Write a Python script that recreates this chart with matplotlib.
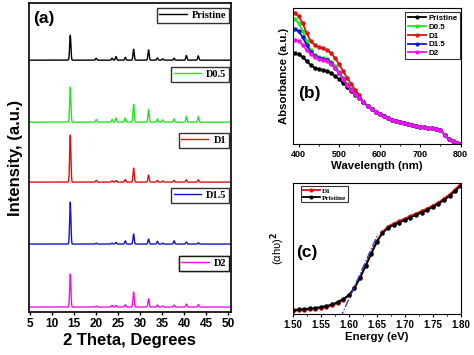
import numpy as np
import matplotlib
matplotlib.use("Agg")
from matplotlib import pyplot as plt
from matplotlib.ticker import MultipleLocator, FormatStrFormatter

plt.rcParams['font.family'] = 'Liberation Sans'
plt.rcParams['font.weight'] = 'bold'
plt.rcParams['axes.labelweight'] = 'bold'

# ---- (a) XRD ----
samples = ['Pristine', 'D0.5', 'D1', 'D1.5', 'D2']
colors = ['black', '#22e622', '#e01010', '#1414c8', '#f010f0']
peak_pos = [14.1, 20.0, 23.6, 24.5, 26.6, 28.5, 31.9, 33.9, 35.1, 37.7, 40.5, 43.2]
peak_h = {
    'Pristine': [25, 2, 2, 3.7, 2.7, 11, 10.3, 2.3, 1.3, 2, 4.7, 4.3],
    'D0.5': [35, 2.7, 2.7, 4, 4.3, 17.7, 12.7, 3.3, 2.3, 3.3, 6, 5.7],
    'D1': [47, 1.7, 1.3, 1.7, 2.7, 14, 7, 1.7, 1, 1.7, 2.3, 2.3],
    'D1.5': [42, 1, 1, 1.7, 3.3, 10, 5, 2.7, 1, 3.3, 2, 1.3],
    'D2': [33, 1, 1.7, 1.7, 2.3, 15, 8.3, 2, 1, 2, 3, 2.3],
}
offsets = [252, 190, 130, 68, 5]
legend_top = [0.984, 0.793, 0.579, 0.401, 0.181]

# ---- (b) UV-vis absorbance ----
wl = list(range(390, 801, 10))
tail = [42, 38, 35, 32, 30, 28, 26, 24.5, 23, 22, 21, 20, 19, 18, 17.5, 17,
        16.5, 16, 15.5, 14, 9.5, 5, 3, 1.5, 0.5]
absorb = {
    'Pristine': [91, 90, 87, 83, 79, 76, 75, 74, 73, 71, 68, 65, 61, 57, 53, 49, 46] + tail,
    'D0.5': [125, 121, 113, 103, 94, 89, 87, 86, 85, 82, 78, 72, 66, 60, 55, 50, 46] + tail,
    'D1': [131, 128, 121, 111, 103, 99, 97, 96, 94, 91, 86, 80, 73, 66, 60, 54, 49] + tail,
    'D1.5': [115, 113, 107, 99, 92, 88, 86, 85, 84, 81, 76, 71, 65, 59, 54, 50, 46] + tail,
    'D2': [104, 103, 99, 94, 90, 87, 85, 84, 83, 80, 76, 71, 65, 59, 54, 50, 46] + tail,
}

# ---- (c) Tauc plot ----
energy = [round(1.50 + 0.01 * i, 2) for i in range(31)]
tauc_pristine = [4, 4.5, 5, 5.5, 6, 7, 8, 9.5, 12, 15, 19, 26, 36, 48, 60, 72, 81, 86,
                 89, 91.5, 94, 96.5, 99, 101.5, 104, 107, 110, 114, 118, 123, 128]
tauc_d1 = [3, 3.5, 4, 4.5, 5, 6, 7, 8.5, 11, 14, 18.5, 26, 36.5, 49, 61, 73, 82, 87.5,
           90.5, 93, 95.5, 98, 100.5, 103, 105.5, 108.5, 111.5, 115.5, 119.5, 124.5, 130.5]
onset = 1.588
fit_slope = 1250

fig = plt.figure(figsize=(4.74, 3.55), dpi=100)

# panel a
ax = fig.add_axes([0.061, 0.121, 0.426, 0.870])
x = np.linspace(4.8, 50.5, 3000)
for i, s in enumerate(samples):
    y = np.full_like(x, offsets[i], dtype=float)
    for p, h in zip(peak_pos, peak_h[s]):
        y += h * np.exp(-0.5 * ((x - p) / 0.14) ** 2)
    line, = ax.plot(x, y, color=colors[i], lw=1.0)
    leg = ax.legend([line], [s], loc='upper right', bbox_to_anchor=(0.99, legend_top[i]),
                    prop={'family': 'Liberation Serif', 'weight': 'bold', 'size': 7.5},
                    frameon=True, fancybox=False, edgecolor='black', borderpad=0.25,
                    handlelength=2.6, handletextpad=0.5, borderaxespad=0)
    leg.get_frame().set_linewidth(1.0)
    ax.add_artist(leg)
ax.set_xlim(4.7, 50.6)
ax.set_ylim(0, 309)
ax.set_yticks([])
ax.xaxis.set_major_locator(MultipleLocator(5))
ax.tick_params(axis='x', labelsize=8.5, length=2.5, width=1, pad=2)
ax.set_xlabel('2 Theta, Degrees', fontsize=12, labelpad=2)
ax.set_ylabel('Intensity, (a.u.)', fontsize=12, labelpad=4)
for sp in ax.spines.values():
    sp.set_linewidth(1.2)
ax.text(0.02, 0.975, '(a)', transform=ax.transAxes, fontsize=12.5, va='top', ha='left')

# panel b
bx = fig.add_axes([0.618, 0.594, 0.354, 0.383])
for i, s in enumerate(samples):
    bx.plot(wl, absorb[s], color=colors[i], lw=1.3, marker='o', ms=2.2,
            mfc=colors[i], mec=colors[i], label=s)
bx.set_xlim(386, 800)
bx.set_ylim(0, 136)
bx.set_yticks([])
bx.xaxis.set_major_locator(MultipleLocator(100))
bx.xaxis.set_minor_locator(MultipleLocator(50))
bx.tick_params(axis='x', which='major', labelsize=6.5, length=2.5, pad=1.5)
bx.tick_params(axis='x', which='minor', length=1.5)
bx.set_xlabel('Wavelength (nm)', fontsize=8.2, labelpad=1.5)
bx.set_ylabel('Absorbance (a.u.)', fontsize=8.2, labelpad=3)
lb = bx.legend(loc='upper right', bbox_to_anchor=(0.994, 0.97), fontsize=5.7,
               frameon=True, fancybox=False, edgecolor='black', borderpad=0.3,
               handlelength=2.3, handletextpad=0.3, labelspacing=0.15, borderaxespad=0,
               markerscale=0.9)
lb.get_frame().set_linewidth(0.8)
bx.text(0.03, 0.37, '(b)', transform=bx.transAxes, fontsize=12.5, va='center', ha='left')

# panel c
cx = fig.add_axes([0.618, 0.1155, 0.354, 0.369])
cx.plot(energy, tauc_d1, color='#e01010', lw=1.3, marker='o', ms=2.2, label='D1')
cx.plot(energy, tauc_pristine, color='black', lw=1.3, marker='o', ms=2.2, label='Pristine')
fe = np.array([1.584, 1.652])
cx.plot(fe, fit_slope * (fe - onset), color='#2030d0', lw=0.9, ls='-.')
cx.set_xlim(1.5, 1.8)
cx.set_ylim(0, 131)
cx.set_yticks([])
cx.xaxis.set_major_locator(MultipleLocator(0.05))
cx.xaxis.set_minor_locator(MultipleLocator(0.025))
cx.xaxis.set_major_formatter(FormatStrFormatter('%.2f'))
cx.tick_params(axis='x', which='major', labelsize=7, length=2.5, pad=1.5)
cx.tick_params(axis='x', which='minor', length=1.5)
cx.set_xlabel('Energy (eV)', fontsize=8.2, labelpad=1.5)
cx.set_ylabel('(αhυ)$^2$', fontsize=8, fontweight='normal', labelpad=4)
lc = cx.legend(loc='upper left', bbox_to_anchor=(0.048, 0.977),
               prop={'family': 'Liberation Serif', 'weight': 'bold', 'size': 5.2},
               frameon=True, fancybox=False, edgecolor='black', borderpad=0.25,
               handlelength=2.4, handletextpad=0.3, labelspacing=0.1, borderaxespad=0,
               markerscale=0.9)
lc.get_frame().set_linewidth(0.8)
cx.text(0.02, 0.47, '(c)', transform=cx.transAxes, fontsize=12.5, va='center', ha='left')

for a in (ax, bx, cx):
    for lab in a.get_xticklabels():
        lab.set_fontweight('bold')

fig.savefig('out.png', dpi=100)
